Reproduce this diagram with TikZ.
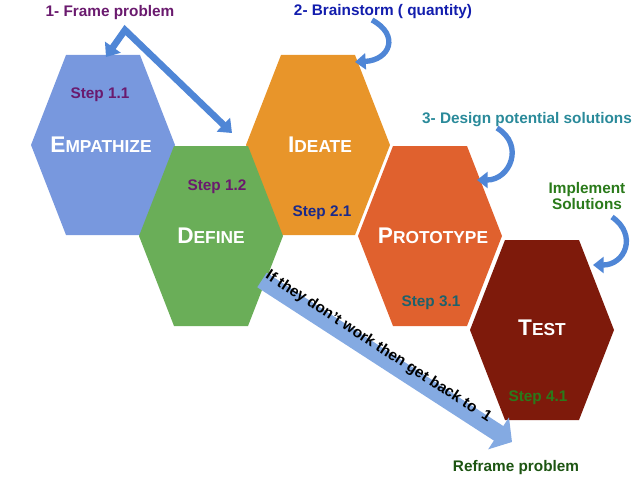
\documentclass[tikz,border=0pt]{standalone}
\usepackage{fontspec}
\setmainfont{Liberation Sans}
\usetikzlibrary{arrows.meta}
\definecolor{emp}{HTML}{7898DE}
\definecolor{def}{HTML}{6AAE58}
\definecolor{ide}{HTML}{E8952A}
\definecolor{pro}{HTML}{E0612E}
\definecolor{tst}{HTML}{7E1A0B}
\definecolor{arr}{HTML}{4F86D6}
\definecolor{purp}{HTML}{6A1A6E}
\definecolor{navy}{HTML}{1A2A8A}
\definecolor{teal}{HTML}{2A8A9A}
\definecolor{dgreen}{HTML}{2A7A1A}
\newcommand\myhex[3]{\fill[#3] (#1-72,#2) -- (#1-37,#2-90) -- (#1+37,#2-90) -- (#1+72,#2) -- (#1+37,#2+90) -- (#1-37,#2+90) -- cycle;}
\tikzset{
 big/.style={text=white,font=\bfseries\fontsize{17}{17}\selectfont},
 steplab/.style={font=\bfseries\fontsize{11.5}{11.5}\selectfont},
 lab/.style={font=\bfseries\fontsize{11.5}{12}\selectfont},
 curv/.style={arr,line width=4pt,-{Triangle[length=8pt,width=12pt]}},
}
\begin{document}
\begin{tikzpicture}[x=0.75pt,y=-0.75pt]
\useasboundingbox (0,0) rectangle (638,478);
\myhex{103}{145}{emp}
\myhex{318}{145}{ide}
\myhex{211}{236}{def}
\myhex{430}{236}{pro}
\myhex{542}{330}{tst}
\node[big] (e) at (101,145) {E\fontsize{13}{13}\selectfont MPATHIZE};
\node[big] (i) at (320,145) {I\fontsize{13}{13}\selectfont DEATE};
\node[big] (d) at (211,236) {D\fontsize{13}{13}\selectfont EFINE};
\node[big] (p) at (433,236) {P\fontsize{13}{13}\selectfont ROTOTYPE};
\node[big] (t) at (542,328) {T\fontsize{13}{13}\selectfont EST};
\node[steplab,text=purp] (s11) at (100,95) {Step 1.1};
\node[steplab,text=purp] (s12) at (217,187) {Step 1.2};
\node[steplab,text=navy] (s21) at (322,213) {Step 2.1};
\node[steplab,text=teal!70!black] (s31) at (431,303) {Step 3.1};
\node[steplab,text=dgreen] (s41) at (538,398) {Step 4.1};
\node[lab,text=purp] (l1) at (110,13) {1- Frame problem};
\node[lab,text=navy!70!blue] (l2) at (383,12) {2- Brainstorm ( quantity)};
\node[lab,text=teal] (l3) at (527,120) {3- Design potential solutions};
\node[lab,text=dgreen,align=center] (l4) at (587,196) {Implement\\Solutions};
\node[lab,text=dgreen!70!black] (l5) at (516,468) {Reframe problem};
% frame arrow
\coordinate (fa) at (106,57);
\coordinate (fb) at (125,30);
\coordinate (fc) at (232,133);
\draw[arr,line width=5pt,line join=miter,{Triangle[length=9pt,width=14pt]}-{Triangle[length=9pt,width=14pt]}] (fa) -- (fb) -- (fc);
% curved arrows
\coordinate (c1a) at (372,20); \coordinate (c1b) at (355,62);
\draw[curv] (c1a) .. controls (400,35) and (390,60) .. (c1b);
\coordinate (c2a) at (497,128); \coordinate (c2b) at (477,180);
\draw[curv] (c2a) .. controls (525,145) and (510,180) .. (c2b);
\coordinate (c3a) at (612,217); \coordinate (c3b) at (593,265);
\draw[curv] (c3a) .. controls (638,235) and (625,265) .. (c3b);
% big diagonal arrow
\coordinate (ga) at (262,280); \coordinate (gb) at (512,442);
\draw[arr!70,line width=13pt,-{Triangle[length=12pt,width=28pt]}] (ga) -- (gb);
\node[font=\bfseries\fontsize{11.5}{11.5}\selectfont,rotate=-33,anchor=west] (gt) at (263,272) {If they don’t work then get back to \ 1};
\end{tikzpicture}
\end{document}
